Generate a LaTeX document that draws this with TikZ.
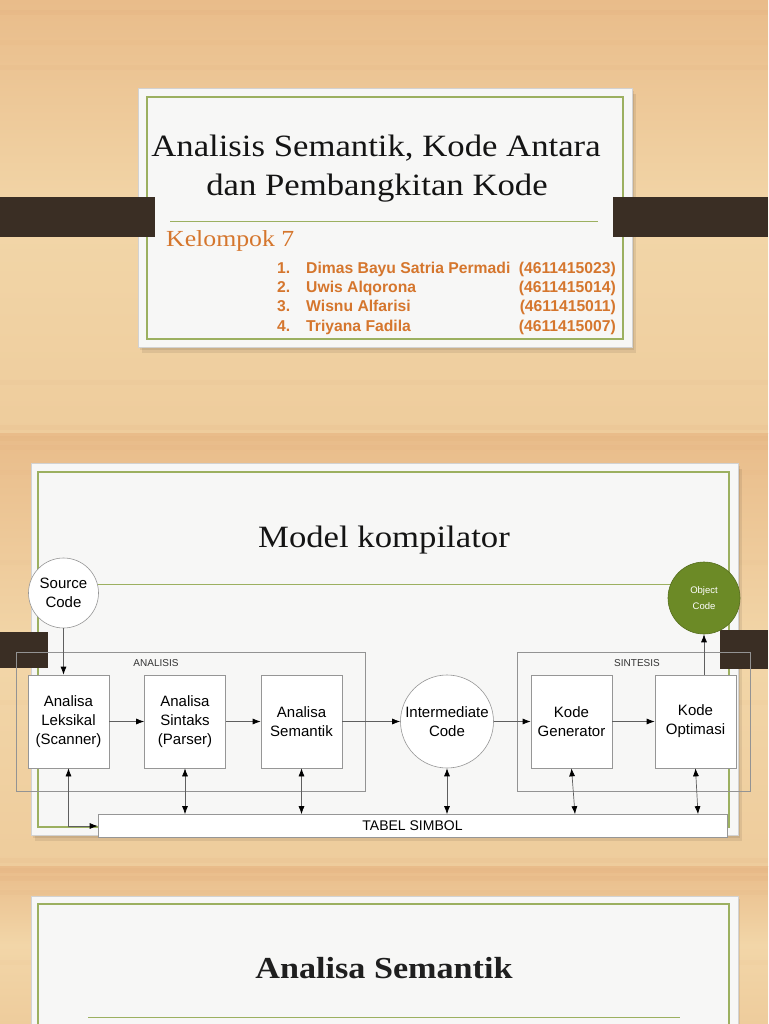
\documentclass[tikz,border=0pt]{standalone}
\usepackage{fontspec}
\setmainfont{Liberation Serif}
\newfontfamily\ttl[FakeStretch=1.12]{Liberation Serif}
\newfontfamily\dg{Liberation Sans}
\usetikzlibrary{arrows.meta,shapes.geometric}
\definecolor{woodTop}{RGB}{233,188,138}
\definecolor{woodMid}{RGB}{242,214,168}
\definecolor{woodBot}{RGB}{238,204,156}
\definecolor{woodStripe}{RGB}{218,160,108}
\definecolor{cardwhite}{RGB}{247,247,246}
\definecolor{greenline}{RGB}{156,176,96}
\definecolor{tabbrown}{RGB}{58,46,36}
\definecolor{orangetxt}{RGB}{213,118,45}
\definecolor{olive}{RGB}{108,138,38}
\definecolor{boxgray}{RGB}{150,150,150}
\definecolor{linegray}{RGB}{95,95,95}
\tikzset{
  card/.style={fill=cardwhite, draw=gray!35, line width=0.8pt},
  cardshadow/.style={fill=black, opacity=0.08},
  innerframe/.style={draw=greenline, line width=1.1pt},
  tabbar/.style={fill=tabbrown},
  titletext/.style={inner sep=0pt, font=\ttl\fontsize{31}{36}\selectfont, text=black!92},
  listtxt/.style={inner sep=0pt, font=\dg\bfseries\fontsize{15.7}{19}\selectfont, text=orangetxt},
  procbox/.style={draw=boxgray, fill=white, line width=0.7pt, minimum width=81pt, minimum height=93pt, align=center, inner sep=0pt, font=\dg\fontsize{15}{19}\selectfont},
  roundnode/.style={circle, draw=boxgray, fill=white, line width=0.6pt, align=center, inner sep=0pt, font=\dg\fontsize{15}{19}\selectfont},
  groupbox/.style={draw=gray!85, line width=0.8pt, inner sep=0pt},
  grouplabel/.style={inner sep=0pt, font=\dg\fontsize{10}{12}\selectfont, text=black!80},
  conn/.style={draw=linegray, line width=0.7pt, -{Latex[length=8pt,width=6pt,color=black]}},
  biconn/.style={draw=linegray, line width=0.7pt, {Latex[length=8pt,width=6pt,color=black]}-{Latex[length=8pt,width=6pt,color=black]}},
}
\begin{document}
\begin{tikzpicture}[x=1pt,y=-1pt]
\useasboundingbox (0,0) rectangle (768,1024);
% ---------- wood background ----------
\shade[top color=woodTop, bottom color=woodBot, middle color=woodMid] (0,0) rectangle (768,433);
\shade[top color=woodTop, bottom color=woodBot, middle color=woodMid] (0,433) rectangle (768,866);
\shade[top color=woodTop, bottom color=woodBot, middle color=woodMid] (0,866) rectangle (768,1024);
\foreach \yy/\op in {10/0.12,40/0.06,65/0.06,380/0.05,425/0.08,436/0.1,445/0.08,470/0.05,560/0.04,700/0.04,858/0.08,868/0.12,876/0.1,890/0.06,960/0.04}{
  \fill[woodStripe, opacity=\op] (0,\yy) rectangle (768,\yy+5);
}
% ---------- slide 1 ----------
\fill[cardshadow] (142,94) rectangle (636,353);
\fill[cardshadow] (140,91) rectangle (634,350);
\draw[card] (138,88) rectangle (632,347);
\draw[innerframe] (147,97) rectangle (623,339);
\draw[greenline, line width=1pt] (170,222) -- (598,222);
\fill[tabbar] (0,197) rectangle (155,237);
\fill[tabbar] (613,197) rectangle (768,237);
\node[titletext, anchor=base] (t1a) at (376,157) {Analisis Semantik, Kode Antara};
\node[titletext, anchor=base] (t1b) at (377,196) {dan Pembangkitan Kode};
\node[inner sep=0pt, anchor=base west, font=\ttl\fontsize{23}{26}\selectfont, text=orangetxt] (kel) at (166,246) {Kelompok 7};
\node[listtxt, anchor=base west] (n1) at (277,273) {1.};
\node[listtxt, anchor=base west] (m1) at (306,273) {Dimas Bayu Satria Permadi};
\node[listtxt, anchor=base east] (i1) at (616,273) {(4611415023)};
\node[listtxt, anchor=base west] (n2) at (277,292) {2.};
\node[listtxt, anchor=base west] (m2) at (306,292) {Uwis Alqorona};
\node[listtxt, anchor=base east] (i2) at (616,292) {(4611415014)};
\node[listtxt, anchor=base west] (n3) at (277,311) {3.};
\node[listtxt, anchor=base west] (m3) at (306,311) {Wisnu Alfarisi};
\node[listtxt, anchor=base east] (i3) at (616,311) {(4611415011)};
\node[listtxt, anchor=base west] (n4) at (277,331) {4.};
\node[listtxt, anchor=base west] (m4) at (306,331) {Triyana Fadila};
\node[listtxt, anchor=base east] (i4) at (616,331) {(4611415007)};
% ---------- slide 2 ----------
\fill[cardshadow] (35,469) rectangle (742,841);
\fill[cardshadow] (33,466) rectangle (740,838);
\draw[card] (31,463) rectangle (738,835);
\draw[innerframe] (38,472) rectangle (729,827);
\node[titletext, anchor=base] (t2) at (384,547) {Model kompilator};
\draw[greenline, line width=1pt] (88,584) -- (680,584);
\fill[tabbar] (0,632) rectangle (48,668);
\fill[tabbar] (720,630) rectangle (768,669);
% groups
\node[groupbox, minimum width=349pt, minimum height=139pt] (anabox) at (190.5,721.5) {};
\node[groupbox, minimum width=233pt, minimum height=139pt] (sinbox) at (633.5,721.5) {};
\node[grouplabel] (analbl) at (156,663) {ANALISIS};
\node[grouplabel] (sinlbl) at (637,663) {SINTESIS};
% nodes
\node[roundnode, minimum size=70pt] (src) at (63.5,593) {Source\\Code};
\node[roundnode, minimum size=72pt, fill=olive, draw=olive!80!black, text=white, font=\dg\fontsize{9.5}{16}\selectfont] (obj) at (704,598) {Object\\Code};
\node[procbox] (lex) at (68.5,721.5) {Analisa\\Leksikal\\(Scanner)};
\node[procbox] (sin) at (185,721.5) {Analisa\\Sintaks\\(Parser)};
\node[procbox] (sem) at (301.5,721.5) {Analisa\\Semantik};
\node[roundnode, minimum size=93pt] (inter) at (447,721.5) {Intermediate\\Code};
\node[procbox] (gen) at (571.5,721.5) {Kode\\Generator};
\node[procbox] (opt) at (695.5,721.5) {Kode\\Optimasi};
\node[draw=boxgray, fill=white, line width=0.7pt, minimum width=629pt, minimum height=23pt, inner sep=0pt, font=\dg\fontsize{14}{16}\selectfont] (tabel) at (412.5,826) {TABEL SIMBOL};
% connectors
\draw[conn] (src.south) -- (src.south |- lex.north);
\draw[conn] (lex) -- (sin);
\draw[conn] (sin) -- (sem);
\draw[conn] (sem) -- (inter);
\draw[conn] (inter) -- (gen);
\draw[conn] (gen) -- (opt);
\draw[conn] (obj.south |- opt.north) -- (obj.south);
\draw[biconn] (lex.south) |- (tabel.west);
\draw[biconn] (sin.south) -- (sin.south |- tabel.north);
\draw[biconn] (sem.south) -- (sem.south |- tabel.north);
\draw[biconn] (inter.south) -- (inter.south |- tabel.north);
\draw[biconn] (gen.south) -- ([xshift=3.5pt]gen.south |- tabel.north);
\draw[biconn] (opt.south) -- ([xshift=2.5pt]opt.south |- tabel.north);
% ---------- slide 3 ----------
\fill[cardshadow] (33,899) rectangle (740,1024);
\draw[card] (31,896) rectangle (738,1030);
\draw[innerframe] (38,904) rectangle (729,1030);
\node[inner sep=0pt, anchor=base, font=\ttl\bfseries\fontsize{30.5}{36}\selectfont, text=black!88] (t3) at (384,978) {Analisa Semantik};
\draw[greenline, line width=1pt] (88,1017) -- (680,1017);
\end{tikzpicture}
\end{document}
